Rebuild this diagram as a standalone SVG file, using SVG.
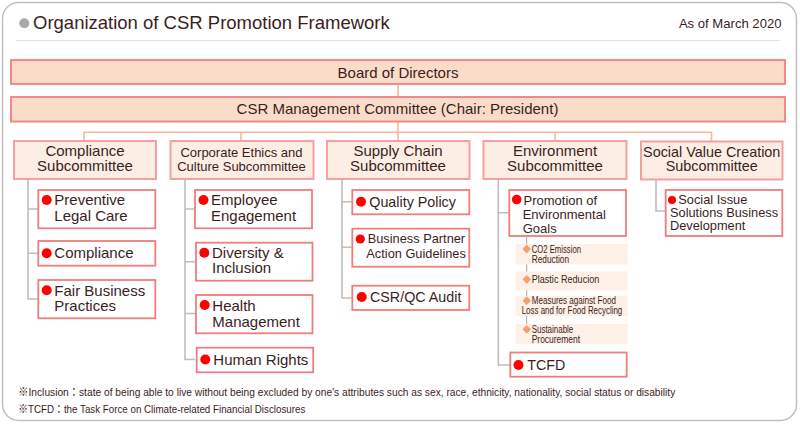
<svg xmlns="http://www.w3.org/2000/svg" width="800" height="442" viewBox="0 0 800 442">
<style>
text{font-family:"Liberation Sans",Arial,"Noto Sans CJK JP",sans-serif;fill:#3a1e1e}
.top{fill:#fadcc9;stroke:#f28a8a;stroke-width:2}
.sub{fill:#fdeee5;stroke:#f3a0a0;stroke-width:2}
.item{fill:#fff;stroke:#f07d7d;stroke-width:1.8}
.env{fill:#fdf0e6}
.dot{fill:#ff0000}
.dia{fill:#f5a26a}
.org{fill:none;stroke:#f4b89a;stroke-width:1.6}
.tree{fill:none;stroke:#bdbdbd;stroke-width:1.6}
.thin{fill:none;stroke:#a8a8a8;stroke-width:1}
.c{text-anchor:middle}
.t15{font-size:15px}
.t14{font-size:14.3px}
.t13{font-size:12.8px}
.s{font-size:10.5px}
.fn{font-size:11.5px}
</style>
<rect x="2.5" y="2.5" width="794" height="418" rx="16" fill="#fff" stroke="#bfbfbf" stroke-width="1.5"/>
<g id="header">
<circle cx="24.3" cy="23.3" r="5" fill="#aaaaaa"/>
<text x="33" y="29.3" font-size="18.5px">Organization of CSR Promotion Framework</text>
<text x="781.5" y="27.7" font-size="13.1px" text-anchor="end">As of March 2020</text>
<line x1="16" y1="40.5" x2="780" y2="40.5" stroke="#e2e2e2" stroke-width="1"/>
</g>
<g id="connectors">
<line class="org" x1="398" y1="85" x2="398" y2="96"/>
<path class="org" d="M398 122V132.3M84 141V132.3H711.5V141M241 132.3V141M398 132.3V141M555 132.3V141"/>
<path class="tree" d="M28 179.5V299H38M28 209H38M28 253.3H38"/>
<path class="tree" d="M185 179.5V359.5H195M185 209H195M185 261.7H196M185 313.5H196"/>
<path class="tree" d="M342 179.5V298H352M342 201.7H352M342 247.3H352"/>
<path class="tree" d="M498.3 179.5V365H510M498.3 212.7H509"/>
<path class="tree" d="M656 179.5V211H666"/>
<line class="thin" x1="526.7" y1="237" x2="526.7" y2="326"/>
</g>
<g id="board">
<rect class="top" x="11" y="60" width="774" height="24"/>
<text class="c" x="398" y="77.5" font-size="15px">Board of Directors</text>
</g>
<g id="csr-management">
<rect class="top" x="11" y="97" width="774" height="24.5"/>
<text class="c" x="397.5" y="114.3" font-size="15px">CSR Management Committee (Chair: President)</text>
</g>
<g id="compliance-sub">
<rect class="sub" x="14" y="141" width="142" height="38"/>
<text class="c t15" x="85" y="156">Compliance<tspan x="85" dy="14.5">Subcommittee</tspan></text>
</g>
<g id="ethics-sub">
<rect class="sub" x="170.5" y="141" width="143" height="38"/>
<text class="c" x="241.5" y="156.7" font-size="13px">Corporate Ethics and<tspan x="241.5" dy="13.8">Culture Subcommittee</tspan></text>
</g>
<g id="supply-sub">
<rect class="sub" x="327" y="141" width="142.5" height="38"/>
<text class="c t15" x="398" y="156">Supply Chain<tspan x="398" dy="14.5">Subcommittee</tspan></text>
</g>
<g id="environment-sub">
<rect class="sub" x="483.5" y="141" width="143" height="38"/>
<text class="c t15" x="555" y="156">Environment<tspan x="555" dy="14.5">Subcommittee</tspan></text>
</g>
<g id="social-sub">
<rect class="sub" x="641" y="141.5" width="141.5" height="38"/>
<text class="c" x="711.7" y="157" font-size="14.4px">Social Value Creation<tspan x="711.7" dy="13.5">Subcommittee</tspan></text>
</g>
<g id="preventive-legal-care">
<rect class="item" x="38.3" y="190" width="117" height="38.3"/>
<circle class="dot" cx="46.7" cy="200" r="5"/>
<text class="t15" x="54.3" y="205">Preventive<tspan x="54.3" dy="15.7">Legal Care</tspan></text>
</g>
<g id="compliance">
<rect class="item" x="38.3" y="241" width="117" height="24.7"/>
<circle class="dot" cx="46.7" cy="253.3" r="5"/>
<text class="t15" x="54.3" y="258.3">Compliance</text>
</g>
<g id="fair-business">
<rect class="item" x="38.3" y="280" width="117" height="38.3"/>
<circle class="dot" cx="46.7" cy="290.3" r="5"/>
<text class="t15" x="54.3" y="295.7">Fair Business<tspan x="54.3" dy="15.3">Practices</tspan></text>
</g>
<g id="employee-engagement">
<rect class="item" x="195" y="190" width="117" height="38.3"/>
<circle class="dot" cx="203.5" cy="200" r="5"/>
<text class="t15" x="211" y="205">Employee<tspan x="211" dy="15.7">Engagement</tspan></text>
</g>
<g id="diversity-inclusion">
<rect class="item" x="196" y="242.7" width="116.5" height="38"/>
<circle class="dot" cx="204.3" cy="252.7" r="5"/>
<text class="t15" x="212" y="257.7">Diversity &amp;<tspan x="212" dy="15.6">Inclusion</tspan></text>
</g>
<g id="health-management">
<rect class="item" x="196" y="295" width="116.5" height="38.3"/>
<circle class="dot" cx="204.7" cy="305" r="5"/>
<text class="t15" x="212.3" y="311">Health<tspan x="212.3" dy="15.7">Management</tspan></text>
</g>
<g id="human-rights">
<rect class="item" x="196.7" y="347.7" width="116.5" height="24.6"/>
<circle class="dot" cx="205.3" cy="359.5" r="5"/>
<text class="t15" x="213.3" y="364.5">Human Rights</text>
</g>
<g id="quality-policy">
<rect class="item" x="352.3" y="190" width="117" height="24.3"/>
<circle class="dot" cx="361" cy="201.7" r="5"/>
<text class="t14" x="369.3" y="206.7">Quality Policy</text>
</g>
<g id="business-partner">
<rect class="item" x="352.3" y="228.7" width="117" height="38"/>
<circle class="dot" cx="360.3" cy="239" r="4.6"/>
<text class="t13" x="367.7" y="243.3">Business Partner<tspan x="366.3" dy="15">Action Guidelines</tspan></text>
</g>
<g id="csr-qc-audit">
<rect class="item" x="352.3" y="285.7" width="117" height="24.3"/>
<circle class="dot" cx="361.7" cy="297" r="5"/>
<text class="t14" x="370" y="302">CSR/QC Audit</text>
</g>
<g id="environmental-goals">
<rect class="item" x="509.3" y="190" width="116.7" height="46"/>
<circle class="dot" cx="516.7" cy="199.5" r="4.8"/>
<text x="523.5" y="204.5" font-size="13px">Promotion of<tspan x="522.7" dy="14.2">Environmental</tspan><tspan x="522.7" dy="13.8">Goals</tspan></text>
</g>
<g id="co2-reduction">
<rect class="env" x="515.7" y="244" width="112" height="20.3"/>
<path class="dia" d="M526.7 244.6L531 249L526.7 253.4L522.4 249Z"/>
<text class="s" x="531.7" y="252.7"><tspan textLength="49.3" lengthAdjust="spacingAndGlyphs">CO2 Emission</tspan><tspan x="531.7" dy="10" textLength="37.3" lengthAdjust="spacingAndGlyphs">Reduction</tspan></text>
</g>
<g id="plastic-reduction">
<rect class="env" x="515.7" y="271.5" width="112" height="19"/>
<path class="dia" d="M526.7 274.9L531 279.3L526.7 283.7L522.4 279.3Z"/>
<text x="531.7" y="283" font-size="11.5px" textLength="67.6" lengthAdjust="spacingAndGlyphs">Plastic Reducion</text>
</g>
<g id="food-loss">
<rect class="env" x="515.7" y="295.7" width="112" height="20.3"/>
<path class="dia" d="M526.7 296.3L531 300.7L526.7 305.1L522.4 300.7Z"/>
<text class="s" x="531.7" y="304"><tspan textLength="84.3" lengthAdjust="spacingAndGlyphs">Measures against Food</tspan><tspan x="521.7" dy="10.3" textLength="100.6" lengthAdjust="spacingAndGlyphs">Loss and for Food Recycling</tspan></text>
</g>
<g id="sustainable-procurement">
<rect class="env" x="515.7" y="324" width="112" height="20.3"/>
<path class="dia" d="M526.7 324.9L531 329.3L526.7 333.7L522.4 329.3Z"/>
<text class="s" x="531.7" y="332.7"><tspan textLength="41.6" lengthAdjust="spacingAndGlyphs">Sustainable</tspan><tspan x="531.7" dy="10" textLength="48.3" lengthAdjust="spacingAndGlyphs">Procurement</tspan></text>
</g>
<g id="tcfd">
<rect class="item" x="510.3" y="352.5" width="116.4" height="24.2"/>
<circle class="dot" cx="518.5" cy="365" r="5"/>
<text x="527.3" y="370.3" font-size="14.3px">TCFD</text>
</g>
<g id="social-issue">
<rect class="item" x="665.7" y="190" width="116.6" height="46"/>
<circle class="dot" cx="672" cy="200" r="4"/>
<text class="t13" x="678.3" y="204">Social Issue<tspan x="670" dy="13.3">Solutions Business</tspan><tspan x="670" dy="12.7">Development</tspan></text>
</g>
<g id="footnotes">
<text class="fn" x="18.3" y="395.7" textLength="657" lengthAdjust="spacingAndGlyphs">※Inclusion：state of being able to live without being excluded by one's attributes such as sex, race, ethnicity, nationality, social status or disability</text>
<text class="fn" x="18.3" y="413.3" textLength="287" lengthAdjust="spacingAndGlyphs">※TCFD：the Task Force on Climate-related Financial Disclosures</text>
</g>
</svg>
